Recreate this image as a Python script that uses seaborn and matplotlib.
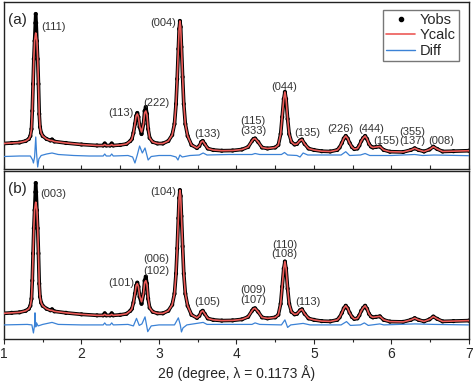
import numpy as np
import pandas as pd
import matplotlib
matplotlib.use("Agg")
import matplotlib.pyplot as plt
from matplotlib.lines import Line2D
import seaborn as sns

# pattern (intensity in arbitrary units)
two_theta = [1.00, 1.10, 1.20, 1.28, 1.32, 1.34, 1.355, 1.365, 1.375, 1.385, 1.395,
             1.405, 1.41, 1.415, 1.425, 1.435, 1.445, 1.455, 1.465, 1.48, 1.50, 1.55,
             1.60, 1.62, 1.65, 1.80, 2.00, 2.20, 2.28, 2.30, 2.32, 2.37, 2.39, 2.41,
             2.50, 2.58, 2.63, 2.65, 2.67, 2.69, 2.705, 2.72, 2.735, 2.75, 2.775, 2.80,
             2.815, 2.83, 2.845, 2.86, 2.88, 2.92, 2.98, 3.05, 3.12, 3.17, 3.20, 3.22,
             3.235, 3.25, 3.26, 3.27, 3.28, 3.29, 3.305, 3.32, 3.34, 3.37, 3.42, 3.49,
             3.52, 3.545, 3.565, 3.59, 3.63, 3.70, 3.81, 3.95, 4.07, 4.15, 4.20, 4.22,
             4.24, 4.28, 4.33, 4.40, 4.50, 4.54, 4.57, 4.59, 4.61, 4.625, 4.64, 4.66,
             4.68, 4.71, 4.75, 4.78, 4.82, 4.845, 4.88, 4.93, 5.00, 5.10, 5.21, 5.30,
             5.33, 5.36, 5.385, 5.41, 5.435, 5.46, 5.49, 5.52, 5.56, 5.585, 5.61, 5.635,
             5.66, 5.685, 5.71, 5.735, 5.76, 5.80, 5.85, 5.90, 5.98, 6.15, 6.25, 6.30,
             6.35, 6.42, 6.49, 6.54, 6.59, 6.66, 6.80, 7.00]
y_obs = [25.5, 26, 26.5, 28, 30, 33, 40, 58, 85, 110, 128,
         146, 155, 146, 128, 110, 85, 55, 42, 36, 33, 30,
         28.5, 29.5, 27.5, 26, 24.5, 23.5, 23.5, 25.5, 23.5, 23.5, 25.5, 23.5,
         24, 25, 28, 30, 36, 45, 53, 56, 52, 42, 35, 45,
         58, 62, 55, 40, 31, 27, 25.5, 25.5, 28, 34, 45, 65,
         90, 120, 140, 148, 142, 122, 92, 65, 45, 33, 24, 21,
         23, 27, 28, 25, 20.5, 19, 18.3, 18.5, 19.5, 22, 28, 30,
         30.5, 27, 21.5, 20.5, 21.5, 24, 35, 52, 70, 77, 70, 50,
         35, 27, 24.5, 25, 28.5, 29.5, 25, 20.5, 19, 17.8, 17.5, 19,
         21.5, 26, 30.5, 33, 30.5, 26, 22, 20, 20.5, 23.5, 28, 31,
         33, 30, 25, 22.5, 21.5, 22, 22.5, 19, 17.3, 17, 19, 20.7,
         19, 17.5, 19.5, 22.3, 20, 17.5, 17.8, 18.3]
y_calc = [25.5, 26, 26.5, 28, 30, 33, 40, 58, 85, 110, 128,
          134, 136, 134, 128, 110, 85, 55, 42, 36, 33, 30,
          28.5, 28.5, 27.5, 26, 24.5, 23.5, 23.5, 24.5, 23.5, 23.5, 24.5, 23.5,
          24, 25, 28, 30, 36, 45, 53, 55, 52, 43, 37, 45,
          56, 58, 54, 41, 31, 27, 25.5, 25.5, 28, 34, 45, 65,
          90, 120, 140, 148, 142, 122, 92, 65, 45, 33, 24, 21,
          23, 27, 28, 25, 20.5, 19, 18.3, 18.5, 19.5, 22, 28, 30,
          30.5, 27, 21.5, 20.5, 21.5, 24, 35, 52, 70, 77, 70, 50,
          35, 27, 24.5, 25, 28.5, 29.5, 25, 20.5, 19, 17.8, 17.5, 19,
          21.5, 26, 30.5, 33, 30.5, 26, 22, 20, 20.5, 23.5, 28, 31,
          33, 30, 25, 22.5, 21.5, 22, 22.5, 19, 17.3, 17, 19, 20.7,
          19, 17.5, 19.5, 22.3, 20, 17.5, 17.8, 18.3]

# difference curves (already offset below the pattern)
diff_a_x = [1.00, 1.20, 1.34, 1.37, 1.38, 1.395, 1.41, 1.42, 1.435, 1.45, 1.48, 1.55,
            1.62, 1.70, 1.90, 2.10, 2.28, 2.30, 2.32, 2.37, 2.39, 2.41, 2.60, 2.66,
            2.69, 2.72, 2.75, 2.785, 2.82, 2.86, 2.90, 3.00, 3.15, 3.22, 3.245, 3.27,
            3.30, 3.40, 3.52, 3.57, 3.62, 3.90, 4.20, 4.24, 4.30, 4.58, 4.62, 4.66,
            4.78, 4.82, 4.86, 4.92, 5.35, 5.41, 5.46, 5.60, 5.66, 5.72, 6.00, 6.30,
            6.40, 6.55, 7.00]
diff_a = [12.5, 13, 13, 9, 6, 12, 32, 16, 2, 10, 13.5, 15,
          16, 14.5, 13.5, 13, 13, 15, 13, 13, 15, 13, 13.5, 12,
          6, 14, 23, 16, 21, 9, 12.5, 13.5, 13.5, 12, 9, 14,
          12, 13.5, 14, 16, 14, 14.5, 14.5, 15.5, 14.5, 14.5, 16.5, 14,
          13.5, 12, 16, 14, 14, 17.3, 13.5, 14, 15.5, 13.5, 13.5, 14.5,
          13.5, 14, 13.3]
diff_b_x = [1.00, 1.30, 1.36, 1.38, 1.395, 1.40, 1.41, 1.42, 1.44, 1.50, 1.62, 1.70,
            2.00, 2.28, 2.30, 2.32, 2.37, 2.39, 2.41, 2.60, 2.67, 2.71, 2.745, 2.78,
            2.82, 2.855, 2.90, 3.00, 3.20, 3.25, 3.275, 3.29, 3.31, 3.36, 3.57, 3.62,
            4.20, 4.24, 4.30, 4.58, 4.625, 4.66, 4.70, 4.86, 4.95, 5.35, 5.42, 5.47,
            5.60, 5.65, 5.70, 5.85, 5.90, 6.30, 6.55, 7.00]
diff_b = [14, 14.5, 14, 6, 14, 26, 12, 16, 13, 14.5, 16.5, 14.5,
          14, 14, 16, 14, 14, 16, 14, 14.5, 13, 20.5, 13.5, 15,
          22, 7.3, 13, 14, 14, 21, 14, 7, 11, 14, 16.5, 14.5,
          14.5, 16, 14.5, 14, 19, 11.5, 14, 15.5, 14, 14, 17.3, 13.5,
          14, 16, 13.5, 15, 14, 15, 14.5, 14]

# reflection labels: (text, 2theta, height)
labels_a = [("(111)", 1.636, 142), ("(113)", 2.514, 56), ("(222)", 2.964, 66),
            ("(004)", 3.049, 146), ("(133)", 3.626, 35), ("(115)", 4.218, 47.5),
            ("(333)", 4.218, 38), ("(044)", 4.619, 82), ("(135)", 4.916, 36),
            ("(226)", 5.344, 40), ("(444)", 5.740, 40), ("(155)", 5.931, 27.5),
            ("(355)", 6.271, 37), ("(137)", 6.271, 27.8), ("(008)", 6.643, 28.2)]
labels_b = [("(003)", 1.636, 144), ("(101)", 2.514, 56), ("(006)", 2.964, 79.5),
            ("(102)", 2.964, 68), ("(104)", 3.049, 146.5), ("(105)", 3.626, 36.5),
            ("(009)", 4.21, 48.5), ("(107)", 4.21, 39), ("(110)", 4.619, 93.5),
            ("(108)", 4.619, 84), ("(113)", 4.916, 36.5)]

df = pd.DataFrame({"two_theta": two_theta, "Yobs": y_obs, "Ycalc": y_calc})
dfa = pd.DataFrame({"two_theta": diff_a_x, "Diff": diff_a})
dfb = pd.DataFrame({"two_theta": diff_b_x, "Diff": diff_b})

sns.set_style("ticks")
plt.rcParams["font.family"] = ["Liberation Sans", "DejaVu Sans"]
plt.rcParams["axes.linewidth"] = 1.0
plt.rcParams["axes.edgecolor"] = "#222222"

RED = "#ec5a57"
BLUE = "#3b82d6"

fig = plt.figure(figsize=(4.74, 3.84), dpi=100)
ax_a = fig.add_axes([0.0084, 0.5599, 0.981, 0.4349])
ax_b = fig.add_axes([0.0084, 0.1172, 0.981, 0.4375])

for ax, dfd, labels, tag in [(ax_a, dfa, labels_a, "(a)"), (ax_b, dfb, labels_b, "(b)")]:
    sns.lineplot(data=df, x="two_theta", y="Yobs", color="black", lw=2.6, ax=ax,
                 zorder=2, sort=False)
    sns.scatterplot(data=df, x="two_theta", y="Yobs", color="black", s=9, ax=ax,
                    edgecolor="none", zorder=2)
    sns.lineplot(data=df, x="two_theta", y="Ycalc", color=RED, lw=1.2, ax=ax,
                 zorder=3, sort=False)
    sns.lineplot(data=dfd, x="two_theta", y="Diff", color=BLUE, lw=0.9, ax=ax,
                 zorder=3, sort=False)
    for txt, xx, yy in labels:
        ax.text(xx, yy, txt, fontsize=8, color="#333333", ha="center", va="center")
    ax.text(0.008, 0.895, tag, transform=ax.transAxes, fontsize=11, ha="left",
            va="center")
    ax.set_xlim(1, 7)
    ax.set_ylim(0, 167)
    ax.set_yticks([])
    ax.set_ylabel("")
    for s in ax.spines.values():
        s.set_visible(True)

ax_a.set_xticks(np.arange(1, 7.01, 0.5))
ax_a.tick_params(axis="x", direction="in", length=3, width=0.8, labelbottom=False)
ax_a.set_xlabel("")

ax_b.set_xticks([1, 2, 3, 4, 5, 6, 7])
ax_b.set_xticks(np.arange(1.5, 7, 1.0), minor=True)
ax_b.tick_params(axis="x", which="major", direction="out", length=3.5, width=0.8,
                 labelsize=10, pad=2)
ax_b.tick_params(axis="x", which="minor", direction="out", length=2.2, width=0.8)
ax_b.set_xlabel("2θ (degree, λ = 0.1173 Å)", fontsize=10, labelpad=3)

handles = [Line2D([], [], marker="o", ls="none", color="black", markersize=3),
           Line2D([], [], color=RED, lw=1.2),
           Line2D([], [], color=BLUE, lw=1.0)]
ax_a.legend(handles, ["Yobs", "Ycalc", "Diff"], loc="upper right",
            bbox_to_anchor=(0.978, 0.952), borderaxespad=0, fontsize=10.5,
            frameon=True, fancybox=False, edgecolor="#777777", framealpha=1,
            handlelength=2.0, handletextpad=0.3, labelspacing=0.1, borderpad=0.2)

fig.savefig("out.png", dpi=100)
